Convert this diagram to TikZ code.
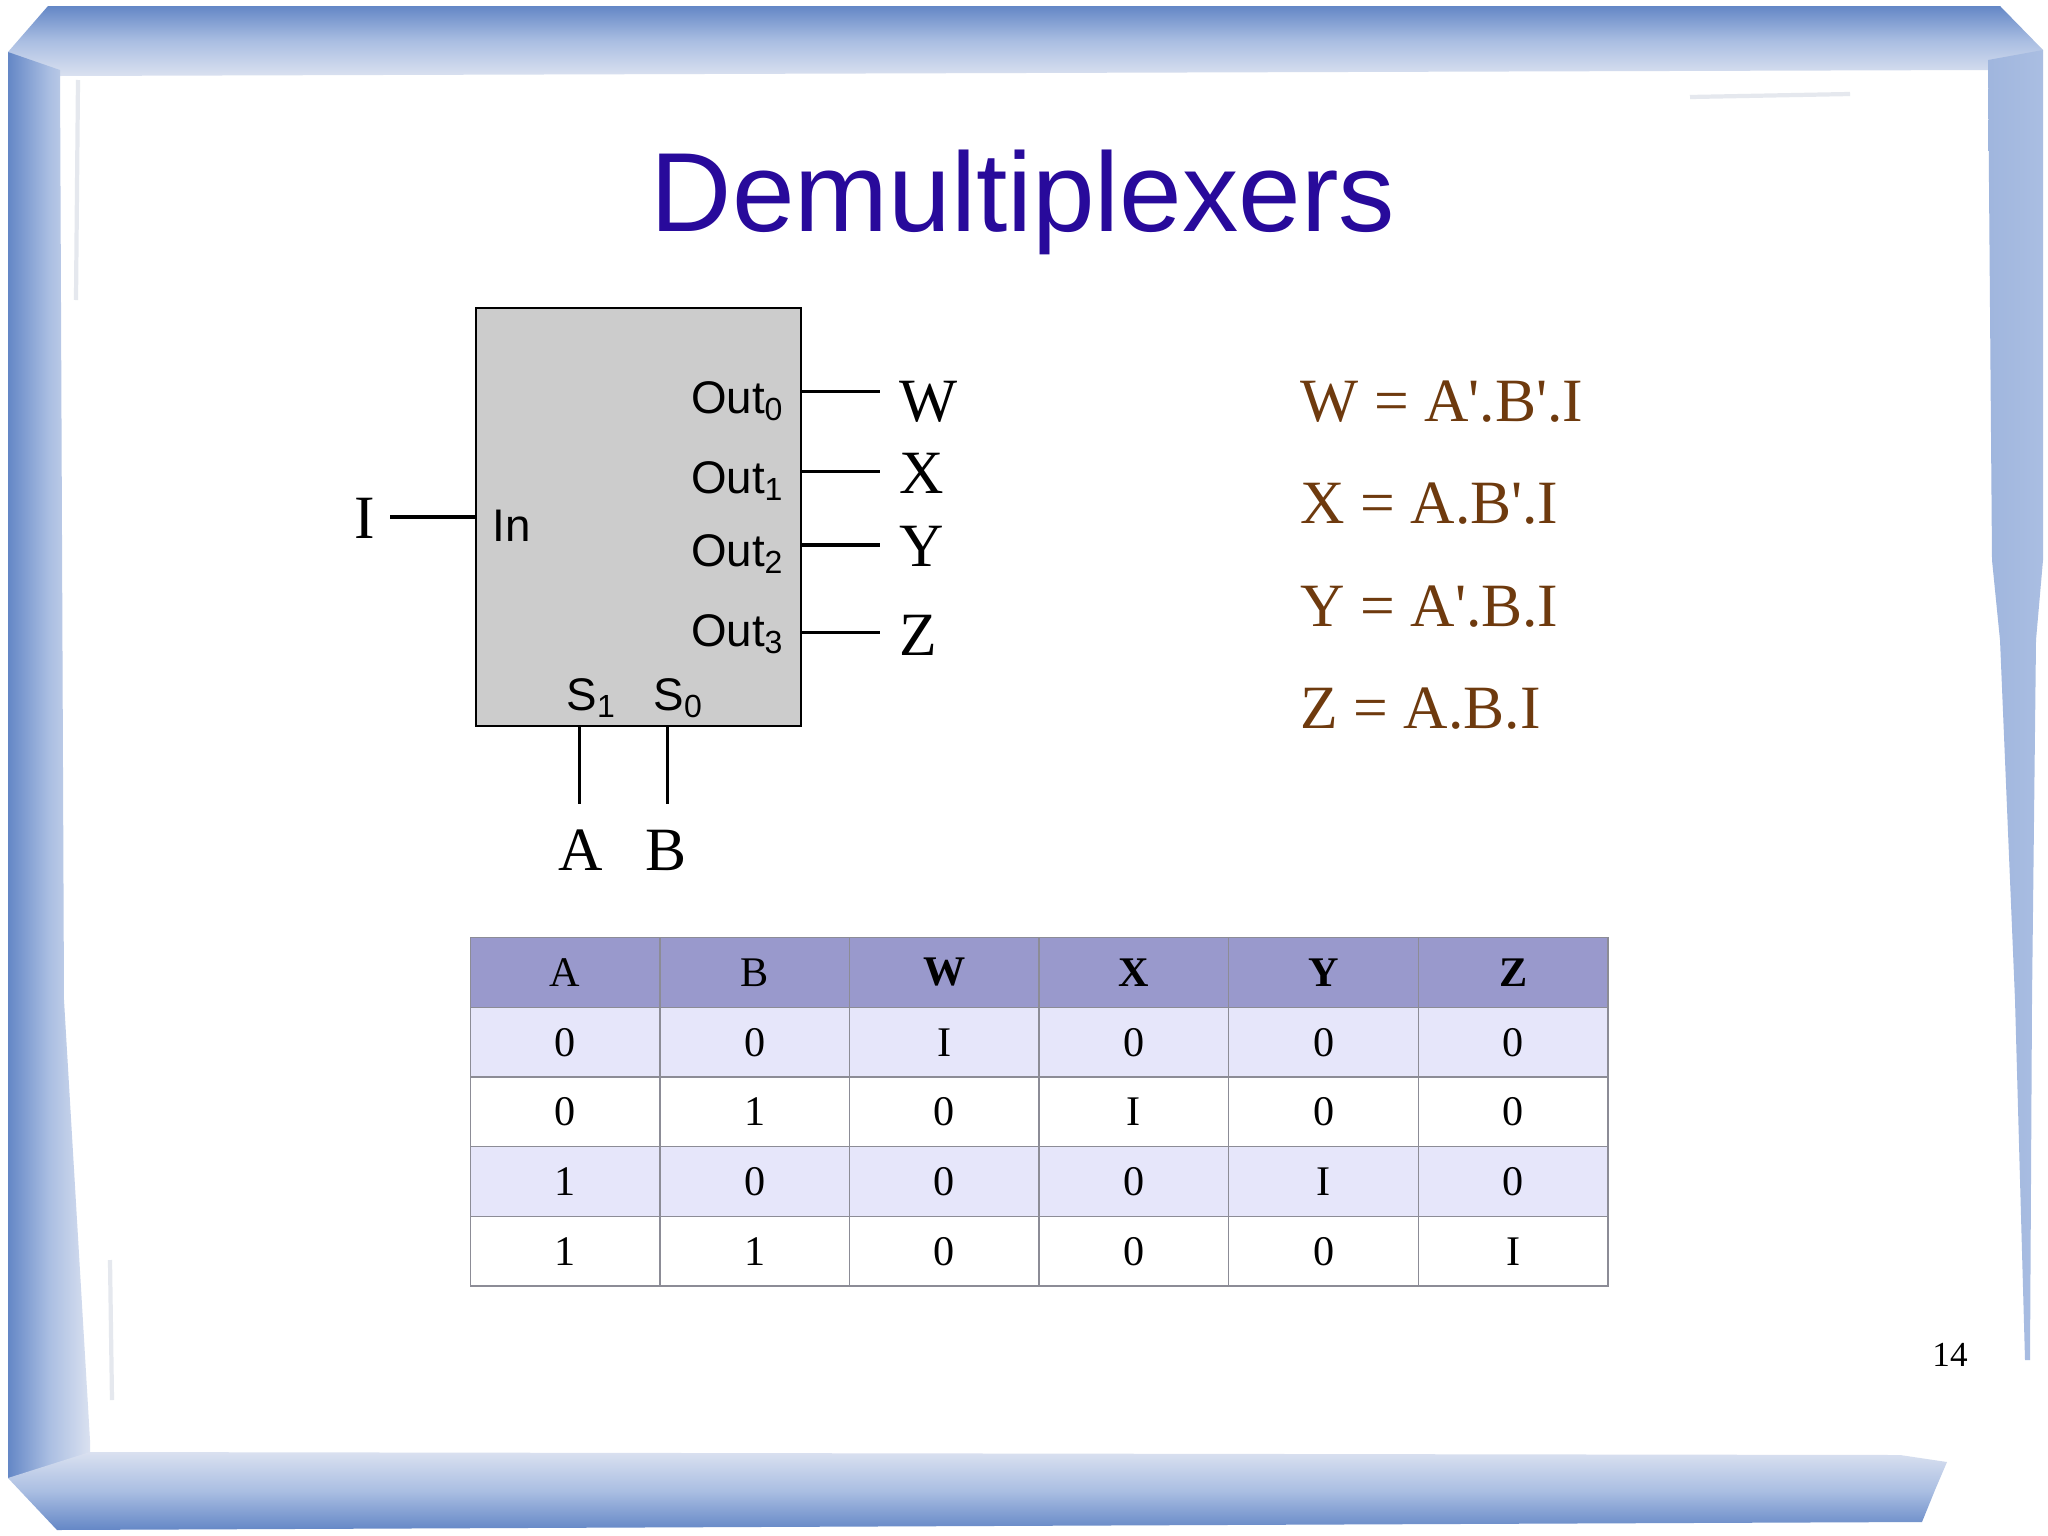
\documentclass[tikz,border=0pt]{standalone}
\usepackage{fontspec}
\setmainfont{Liberation Serif}
\setsansfont{Liberation Sans}
\usetikzlibrary{positioning}

\definecolor{titleblue}{RGB}{40,10,155}
\definecolor{eqbrown}{RGB}{110,58,14}
\definecolor{boxgray}{RGB}{204,204,204}
\definecolor{hdrblue}{RGB}{153,153,204}
\definecolor{rowblue}{RGB}{230,230,250}
\definecolor{gridgray}{RGB}{140,140,150}
\definecolor{framedark}{RGB}{100,135,198}
\definecolor{framemid}{RGB}{170,190,226}
\definecolor{framelight}{RGB}{218,225,240}

\newcommand{\tick}{\textquotesingle}

\begin{document}
\begin{tikzpicture}[
        x=0.01cm, y=-0.01cm,
        node distance=1.022cm,
        demuxbox/.style={rectangle, draw=black, line width=0.7pt, fill=boxgray, minimum width=3.25cm, minimum height=4.18cm, inner sep=0pt},
        pinlbl/.style={font=\sffamily\fontsize{13}{15}\selectfont, inner sep=0pt},
        siglbl/.style={font=\fontsize{17.5}{21}\selectfont, inner sep=0pt},
        eqtext/.style={font=\fontsize{17.5}{21}\selectfont, text=eqbrown, inner sep=0pt},
        wire/.style={line width=1pt},
        streak/.style={framelight!85!gray, line width=1.2pt, opacity=0.5},
        tabcell/.style={rectangle, draw=gridgray, line width=0.4pt, minimum width=1.896cm, minimum height=0.697cm, inner sep=0pt, font=\fontsize{12}{14}\selectfont}
    ]
    \useasboundingbox (0,0) rectangle (2048,1536);
    \fill[white] (0,0) rectangle (2048,1536);

    % Frame
    \shade[top color=framedark, bottom color=framelight, middle color=framemid] (48,6) -- (2000,6) -- (2043,50) -- (1990,70) -- (60,76) -- (8,52) -- cycle;
    \shade[left color=framedark, right color=framelight, middle color=framemid] (8,52) -- (60,70) -- (64,1000) -- (90,1440) -- (90,1480) -- (8,1478) -- cycle;
    \shade[top color=framelight, bottom color=framedark, middle color=framemid] (8,1478) -- (90,1452) -- (1900,1455) -- (1947,1462) -- (1935,1490) -- (1922,1522) -- (57,1530) -- cycle;
    \shade[left color=framemid!85!framedark, right color=framemid] (1988,60) -- (2043,50) -- (2043,560) -- (2036,640) -- (2032,1000) -- (2030,1360) -- (2025,1360) -- (2015,1000) -- (2000,640) -- (1992,560) -- cycle;
    \draw[streak] (78,80) -- (76,300);
    \draw[streak] (110,1260) -- (112,1400);
    \draw[streak] (1690,97) -- (1850,94);

    % Title
    \node (title) [font=\sffamily\fontsize{32}{38}\selectfont, text=titleblue, anchor=base] at (1023,231) {Demultiplexers};

    % Demultiplexer block
    \node (demux) [demuxbox] at (638.5,516.9) {};
    \node (inlbl) [pinlbl, anchor=base west] at (492,541) {In};
    \node (out0) [pinlbl, anchor=base east] at (785,413) {Out\textsubscript{0}};
    \node (out1) [pinlbl, anchor=base east] at (785,493) {Out\textsubscript{1}};
    \node (out2) [pinlbl, anchor=base east] at (785,566) {Out\textsubscript{2}};
    \node (out3) [pinlbl, anchor=base east] at (785,646) {Out\textsubscript{3}};
    \node (s1) [pinlbl, anchor=base west] at (566,710) {S\textsubscript{1}};
    \node (s0) [pinlbl, anchor=base west] at (653,710) {S\textsubscript{0}};

    % Signal names
    \node (lblI) [siglbl, anchor=base] at (364.5,538) {I};
    \node (lblW) [siglbl, anchor=base west] at (899,421.7) {W};
    \node (lblX) [siglbl, anchor=base west] at (899,493) {X};
    \node (lblY) [siglbl, anchor=base west] at (899,566.7) {Y};
    \node (lblZ) [siglbl, anchor=base west] at (899,655) {Z};
    \node (lblA) [siglbl, anchor=base] at (581,870.7) {A};
    \node (lblB) [siglbl, anchor=base] at (666,870.7) {B};

    % Wires
    \coordinate (iend) at (390,516.9);
    \coordinate (wend) at (880,391.7);
    \coordinate (xend) at (880,471.7);
    \coordinate (yend) at (880,545);
    \coordinate (zend) at (880,632.7);
    \coordinate (aend) at (579.3,804);
    \coordinate (bend) at (667.3,804);
    \draw [wire] (iend) -- (demux.west);
    \draw [wire] (demux.east |- wend) -- (wend);
    \draw [wire] (demux.east |- xend) -- (xend);
    \draw [wire] (demux.east |- yend) -- (yend);
    \draw [wire] (demux.east |- zend) -- (zend);
    \draw [wire] (demux.south -| aend) -- (aend);
    \draw [wire] (demux.south -| bend) -- (bend);

    % Equations
    \node (eqW) [eqtext, anchor=base west] at (1300,421.7) {W = A\tick.B\tick.I};
    \node (eqX) [eqtext, below=of eqW.base west, anchor=base west] {X = A.B\tick.I};
    \node (eqY) [eqtext, below=of eqX.base west, anchor=base west] {Y = A\tick.B.I};
    \node (eqZ) [eqtext, below=of eqY.base west, anchor=base west] {Z = A.B.I};

    % Truth table
    \foreach \hd [count=\c from 0] in {A,B,\textbf{W},\textbf{X},\textbf{Y},\textbf{Z}}
        \node (hdr-\c) [tabcell, fill=hdrblue, minimum height=0.70cm] at ({565.2+189.6*\c},972.3) {\hd};
    \foreach \row [count=\r from 0] in {{0,0,I,0,0,0},{0,1,0,I,0,0},{1,0,0,0,I,0},{1,1,0,0,0,I}} {
        \ifodd\r \def\rowfill{white}\else \def\rowfill{rowblue}\fi
        \foreach \val [count=\c from 0] in \row
            \node (cell-\r-\c) [tabcell, fill=\rowfill] at ({565.2+189.6*\c},{1042.2+69.7*\r}) {\val};
    }

    % Page number
    \node (pagenum) [font=\fontsize{10}{12}\selectfont, anchor=base] at (1950,1366.7) {14};
\end{tikzpicture}
\end{document}
